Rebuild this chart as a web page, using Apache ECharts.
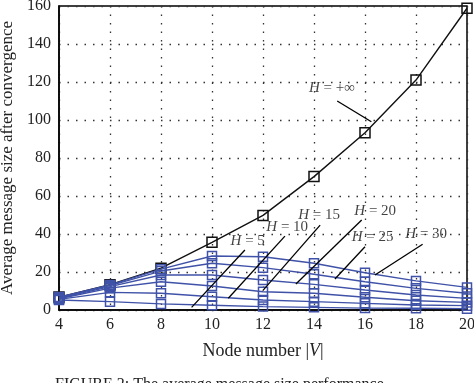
<!DOCTYPE html>
<html>
<head>
<meta charset="utf-8">
<script src="https://cdn.jsdelivr.net/npm/echarts@6/dist/echarts.min.js"></script>
<style>
  html, body { margin: 0; padding: 0; background: #fff; }
  #main { width: 474px; height: 383px; }
</style>
</head>
<body>
<div id="main"></div>
<script>
// node numbers |V|
const nodes = [4, 6, 8, 10, 12, 14, 16, 18, 20];
// average message size, one array per H
const hInf = [6.8, 13.3, 22, 35.6, 49.8, 70.2, 93.3, 121, 158.8];
const h30 = [6.8, 13.2, 21.5, 28.4, 28, 24.6, 19.6, 15.3, 11.9];
const h25 = [6.5, 12.8, 20.5, 24.6, 22.3, 18.8, 14.9, 11.4, 8.8];
const h20 = [6.2, 12.3, 18.4, 18.4, 15.8, 13.5, 10.5, 7.9, 6.1];
const h15 = [5.9, 11.5, 14.9, 12.6, 9.6, 8.8, 6.7, 4.9, 4.0];
const h10 = [5.6, 9.3, 8.8, 7.0, 5.3, 4.4, 3.5, 2.6, 2.3];
const h5 = [5.3, 4.4, 3.2, 2.5, 1.8, 1.4, 1.0, 0.9, 0.7];

// annotation labels: text, label position, leader line from -> to (data coords)
const annLabels = ['= +\u221e', '= 30', '= 25', '= 20', '= 15', '= 10', '= 5'];
const annPos = [[14.7, 116.7], [18.4, 40], [16.3, 38.3], [16.4, 52.3], [14.2, 50], [12.95, 43.8], [11.4, 36.3]];
const annFrom = [[14.91, 110], [18.26, 34.6], [16.0, 33.3], [15.87, 47.4], [14.24, 44.7], [12.86, 38.9], [11.29, 31.6]];
const annTo = [[16.25, 99.1], [16.39, 18.4], [14.82, 16.3], [13.29, 13.7], [11.99, 10.2], [10.64, 6.2], [9.2, 1.4]];

const serif = '"Liberation Serif", "DejaVu Serif", serif';
const blue = '#3f52a8';

const chart = echarts.init(document.getElementById('main'));

function makeLine(data, color, size, z) {
  return {
    type: 'line',
    data: nodes.map((n, i) => [n, data[i]]),
    symbol: 'rect',
    symbolSize: size,
    showSymbol: true,
    itemStyle: { color: 'rgba(255,255,255,0)', borderColor: color, borderWidth: 1.5 },
    lineStyle: { color: color, width: 1.4 },
    z: z,
    silent: true,
    animation: false
  };
}

const series = [
  makeLine(hInf, '#111', 10, 2),
  makeLine(h5, blue, 9, 3),
  makeLine(h10, blue, 9, 3),
  makeLine(h15, blue, 9, 3),
  makeLine(h20, blue, 9, 3),
  makeLine(h25, blue, 9, 3),
  makeLine(h30, blue, 9, 3)
];

// leader lines
series.push({
  type: 'line',
  data: [],
  silent: true,
  animation: false,
  markLine: {
    silent: true,
    symbol: ['none', 'none'],
    label: { show: false },
    lineStyle: { color: '#000', width: 1.3, type: 'solid' },
    data: annFrom.map((f, i) => [{ coord: f }, { coord: annTo[i] }])
  }
});

// label texts
series.push({
  type: 'scatter',
  symbolSize: 0,
  silent: true,
  animation: false,
  data: annPos.map((p, i) => ({ value: p, name: annLabels[i] })),
  label: {
    show: true,
    position: 'inside',
    formatter: p => '{i|H} ' + p.name,
    fontFamily: serif,
    fontSize: 15,
    color: '#111',
    rich: {
      i: { fontFamily: serif, fontStyle: 'italic', fontSize: 15, color: '#111' }
    }
  },
  z: 6
});

chart.setOption({
  backgroundColor: '#fff',
  animation: false,
  grid: {
    left: 59, right: 7, top: 6, bottom: 73,
    outerBoundsMode: 'none',
    show: true, borderColor: '#000', borderWidth: 1.5
  },
  xAxis: {
    type: 'value',
    min: 4,
    max: 20,
    interval: 2,
    name: 'Node number |{i|V}|',
    nameLocation: 'middle',
    nameGap: 32,
    nameTextStyle: {
      fontFamily: serif, fontSize: 18, color: '#222',
      rich: { i: { fontFamily: serif, fontStyle: 'italic', fontSize: 18, color: '#222' } }
    },
    axisLine: { lineStyle: { color: '#000', width: 1.5 } },
    axisTick: { show: false },
    axisLabel: { fontFamily: serif, fontSize: 16, color: '#222', margin: 7 },
    splitLine: { show: true, lineStyle: { color: '#333', type: [1.5, 7], width: 1.3 } }
  },
  yAxis: {
    type: 'value',
    min: 0,
    max: 160,
    interval: 20,
    name: 'Average message size after convergence',
    nameLocation: 'middle',
    nameGap: 42,
    nameTextStyle: { fontFamily: serif, fontSize: 17, color: '#222' },
    axisLine: { show: true, lineStyle: { color: '#000', width: 1.5 } },
    axisTick: { show: false },
    axisLabel: { fontFamily: serif, fontSize: 16, color: '#222', margin: 8 },
    splitLine: { show: true, lineStyle: { color: '#333', type: [1.5, 7], width: 1.3 } }
  },
  graphic: [{
    type: 'text',
    left: 55,
    top: 377,
    style: {
      text: 'FIGURE 2: The average message size performance',
      font: '16px "Liberation Serif", serif',
      fill: '#222'
    }
  }],
  series: series
});
</script>
</body>
</html>
